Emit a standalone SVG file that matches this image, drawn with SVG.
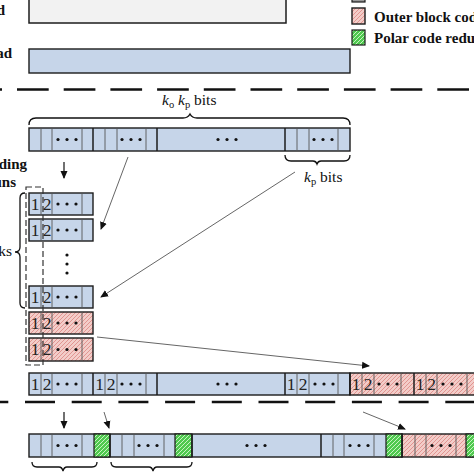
<svg xmlns="http://www.w3.org/2000/svg" width="474" height="474" viewBox="0 0 474 474">
<style>
.b{fill:#c6d5e9;stroke:#1c1c1c;stroke-width:1.4}
.p{fill:url(#pink);stroke:#1c1c1c;stroke-width:1.4}
.g{fill:url(#green);stroke:#1c1c1c;stroke-width:1.2}
.s{stroke:#555;stroke-width:0.9;fill:none}
.t{stroke:#1c1c1c;stroke-width:1.5;fill:none}
.br{stroke:#111;stroke-width:1.3;fill:none}
.lbl{font-family:"Liberation Serif",serif;font-weight:bold;font-size:15px;fill:#111}
.txt{font-family:"Liberation Serif",serif;font-size:15.5px;fill:#111}
.dig{font-family:"Liberation Serif",serif;font-size:17.5px;fill:#222;text-anchor:middle}
.ln{stroke:#666;stroke-width:1;fill:none}
.ar{stroke:#111;stroke-width:1.2;fill:none}
.dash{stroke:#111;stroke-width:2.5;fill:none}
</style>
<defs>
<pattern id="pink" patternUnits="userSpaceOnUse" width="4" height="4">
<rect width="4" height="4" fill="#f3cdc9"/>
<path d="M-1,1l2,-2M0,4l4,-4M3,5l2,-2" stroke="#df8f8b" stroke-width="0.9"/>
</pattern>
<pattern id="green" patternUnits="userSpaceOnUse" width="4" height="4">
<rect width="4" height="4" fill="#4fc94f"/>
<path d="M-1,1l2,-2M0,4l4,-4M3,5l2,-2" stroke="#c8f3c2" stroke-width="1"/>
</pattern>
<g id="dots"><circle cx="0" cy="0" r="1.6" fill="#111"/><circle cx="9" cy="0" r="1.6" fill="#111"/><circle cx="18" cy="0" r="1.6" fill="#111"/></g>
<marker id="ah" markerWidth="8" markerHeight="8" refX="7" refY="4" orient="auto" markerUnits="userSpaceOnUse">
<path d="M0,0.5L8,4L0,7.5z" fill="#111"/>
</marker>
</defs>

<!-- top section -->
<g id="rect-top-white">
<rect x="29" y="-6" width="257" height="29" fill="#f2f2f2" stroke="#1c1c1c" stroke-width="1.5"/>
<text class="lbl" x="5" y="15" text-anchor="end">d</text>
</g>
<g id="rect-top-blue">
<rect class="b" x="29" y="49" width="321" height="24"/>
<text class="lbl" x="12" y="58" text-anchor="end">ad</text>
</g>

<g id="legend">
<rect x="352" y="-12" width="13" height="14" fill="#999" stroke="#1c1c1c" stroke-width="1.2"/>
<rect class="p" x="352" y="8" width="13" height="16" stroke-width="1.2"/>
<text class="lbl" x="374" y="21.5">Outer block code</text>
<rect class="g" x="352" y="30" width="13" height="15"/>
<text class="lbl" x="374" y="43">Polar code redun</text>
</g>

<g id="separators">
<line class="dash" x1="-29.7" y1="89.5" x2="474" y2="89.5" stroke-dasharray="31.7 15"/>
<line class="dash" x1="-21.7" y1="402" x2="474" y2="402" stroke-dasharray="30 16.7"/>
</g>

<!-- middle section -->
<g id="label-kokp">
<path class="br" d="M29,125q0,-7 7,-7H183q5,0 7,-4q2,4 7,4H343q7,0 7,7"/>
<text class="txt" x="162" y="105"><tspan font-style="italic">k</tspan><tspan font-size="10.5" dy="3">o</tspan><tspan dy="-3"> </tspan><tspan font-style="italic">k</tspan><tspan font-size="10.5" dy="3">p</tspan><tspan dy="-3"> bits</tspan></text>
</g>

<g id="row-info">
<rect class="b" x="29" y="128" width="321" height="23"/>
<path class="s" d="M41,128v23M52,128v23M82,128v23M105,128v23M117,128v23M146,128v23M297,128v23M309,128v23M338,128v23"/>
<path class="t" d="M93,128v23M157,128v23M285,128v23"/>
<use href="#dots" x="58" y="139.5"/>
<use href="#dots" x="122" y="139.5"/>
<use href="#dots" x="218" y="139.5"/>
<use href="#dots" x="314" y="139.5"/>
</g>

<g id="label-kp">
<path class="br" d="M285,155q0,6 6,6H313q3,0 4,3q1,-3 4,-3H344q6,0 6,-6"/>
<text class="txt" x="304" y="182"><tspan font-style="italic">k</tspan><tspan font-size="10.5" dy="3">p</tspan><tspan dy="-3"> bits</tspan></text>
</g>

<g id="label-columns">
<text class="lbl" x="27" y="169" text-anchor="end">ding</text>
<text class="lbl" x="16" y="187" text-anchor="end">uns</text>
</g>

<g id="label-ks">
<path class="br" d="M25,193q-5,0 -5,5v49q0,5 -5,5q5,0 5,5v46q0,5 5,5"/>
<text class="txt" x="12" y="256" text-anchor="end">ks</text>
</g>

<g id="block-1">
<rect class="b" x="29" y="193" width="64" height="22"/>
<path class="s" d="M41,193v22M52,193v22M82,193v22"/>
<text class="dig" x="35" y="210">1</text><text class="dig" x="47" y="210">2</text>
<use href="#dots" x="58" y="204"/>
</g>
<g id="block-2">
<rect class="b" x="29" y="219" width="64" height="22"/>
<path class="s" d="M41,219v22M52,219v22M82,219v22"/>
<text class="dig" x="35" y="236">1</text><text class="dig" x="47" y="236">2</text>
<use href="#dots" x="58" y="230"/>
</g>
<g id="vdots">
<circle cx="67" cy="255" r="1.6" fill="#111"/><circle cx="67" cy="264" r="1.6" fill="#111"/><circle cx="67" cy="273" r="1.6" fill="#111"/>
</g>
<g id="block-3">
<rect class="b" x="29" y="286" width="64" height="22"/>
<path class="s" d="M41,286v22M52,286v22M82,286v22"/>
<text class="dig" x="35" y="303">1</text><text class="dig" x="47" y="303">2</text>
<use href="#dots" x="58" y="297"/>
</g>
<g id="block-4">
<rect class="p" x="29" y="312" width="64" height="22"/>
<path class="s" d="M41,312v22M52,312v22M82,312v22"/>
<text class="dig" x="35" y="329">1</text><text class="dig" x="47" y="329">2</text>
<use href="#dots" x="58" y="323"/>
</g>
<g id="block-5">
<rect class="p" x="29" y="338" width="64" height="23"/>
<path class="s" d="M41,338v23M52,338v23M82,338v23"/>
<text class="dig" x="35" y="355">1</text><text class="dig" x="47" y="355">2</text>
<use href="#dots" x="58" y="349.5"/>
</g>
<g id="column-box">
<rect x="26" y="187" width="17" height="178" fill="none" stroke="#333" stroke-width="1.2" stroke-dasharray="6 3"/>
</g>

<g id="row-encoded">
<rect class="b" x="29" y="373" width="321" height="22"/>
<rect class="p" x="350" y="373" width="130" height="22"/>
<path class="s" d="M41,373v22M52,373v22M82,373v22M105,373v22M117,373v22M146,373v22M297,373v22M309,373v22M338,373v22M362,373v22M374,373v22M401,373v22M426,373v22M437,373v22M467,373v22"/>
<path class="t" d="M93,373v22M157,373v22M285,373v22M350,373v22M414,373v22"/>
<text class="dig" x="35" y="390">1</text><text class="dig" x="47" y="390">2</text>
<text class="dig" x="99.5" y="390">1</text><text class="dig" x="111" y="390">2</text>
<text class="dig" x="291" y="390">1</text><text class="dig" x="303" y="390">2</text>
<text class="dig" x="356" y="390">1</text><text class="dig" x="368" y="390">2</text>
<text class="dig" x="420" y="390">1</text><text class="dig" x="431.5" y="390">2</text>
<use href="#dots" x="58" y="384"/>
<use href="#dots" x="122" y="384"/>
<use href="#dots" x="218" y="384"/>
<use href="#dots" x="315" y="384"/>
<use href="#dots" x="379" y="384"/>
<use href="#dots" x="443" y="384"/>
</g>

<!-- bottom section -->
<g id="row-polar">
<rect class="b" x="29" y="434" width="373" height="23"/>
<rect class="p" x="402" y="434" width="80" height="23"/>
<rect class="g" x="94" y="434" width="16" height="23"/>
<rect class="g" x="175" y="434" width="17" height="23"/>
<rect class="g" x="386" y="434" width="16" height="23"/>
<rect class="g" x="466" y="434" width="16" height="23"/>
<path class="s" d="M41,434v23M52,434v23M82,434v23M122,434v23M134,434v23M164,434v23M333,434v23M344,434v23M374,434v23M415,434v23M426,434v23M456,434v23"/>
<path class="t" d="M110,434v23M192,434v23M321,434v23M402,434v23"/>
<use href="#dots" x="58" y="445.5"/>
<use href="#dots" x="139" y="445.5"/>
<use href="#dots" x="247" y="445.5"/>
<use href="#dots" x="350" y="445.5"/>
<use href="#dots" x="432" y="445.5"/>
</g>
<g id="braces-bottom">
<path class="br" d="M32,462q0,5 5,5H59q3,0 4,4q1,-4 4,-4H92q5,0 5,-5"/>
<path class="br" d="M111,462q0,5 5,5H149q3,0 4,4q1,-4 4,-4H187q5,0 5,-5"/>
</g>

<g id="connectors">
<line class="ar" x1="64" y1="162" x2="64" y2="178" marker-end="url(#ah)"/>
<line class="ln" x1="128" y1="157" x2="101" y2="229" marker-end="url(#ah)"/>
<line class="ln" x1="295" y1="172" x2="101" y2="297" marker-end="url(#ah)"/>
<line class="ln" x1="97" y1="337" x2="369" y2="366" marker-end="url(#ah)"/>
<line class="ar" x1="64" y1="412" x2="64" y2="428" marker-end="url(#ah)"/>
<line class="ln" x1="104" y1="412" x2="109" y2="428" marker-end="url(#ah)"/>
<line class="ln" x1="363" y1="412" x2="405" y2="429" marker-end="url(#ah)"/>
</g>
</svg>
